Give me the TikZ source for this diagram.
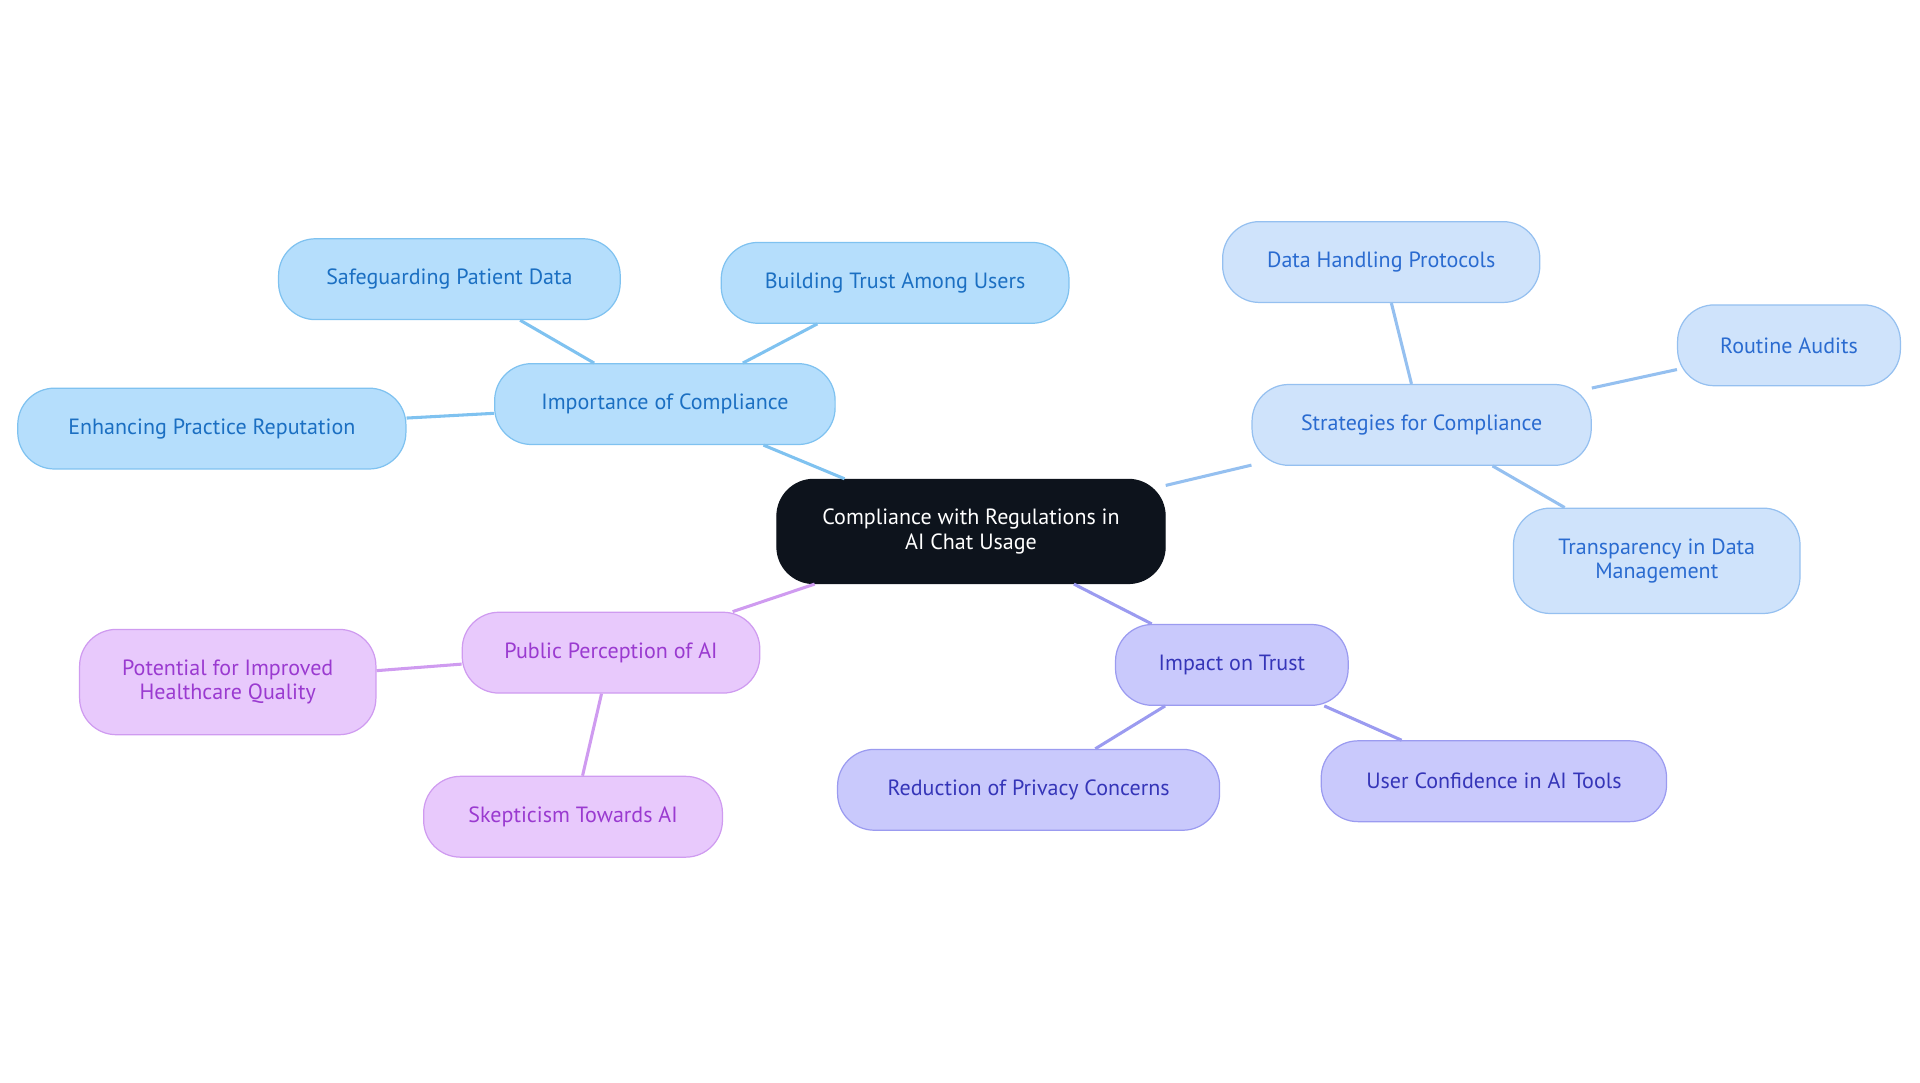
\documentclass[tikz,border=0pt]{standalone}
\usepackage{fontspec}
\setmainfont{PT Sans}
\definecolor{bf}{HTML}{B5DEFC}\definecolor{bd}{HTML}{7FC2F0}\definecolor{bt}{HTML}{1B6FC2}
\definecolor{sf}{HTML}{CFE3FB}\definecolor{sd}{HTML}{95C0F0}\definecolor{st}{HTML}{2A6BD0}
\definecolor{tf}{HTML}{C9C9FC}\definecolor{td}{HTML}{9B9BF0}\definecolor{tt}{HTML}{3535B8}
\definecolor{pf}{HTML}{E8C9FC}\definecolor{pd}{HTML}{CF9BF0}\definecolor{pt}{HTML}{9A3AD0}
\definecolor{cf}{HTML}{0D131C}
\begin{document}
\begin{tikzpicture}[x=1pt,y=-1pt,
 base/.style={rounded corners=30pt,line width=1pt,inner sep=0pt,align=center,font=\fontsize{18}{20}\selectfont,minimum height=66pt},
 imp/.style={base,fill=bf,draw=bd,text=bt},
 str/.style={base,fill=sf,draw=sd,text=st},
 tru/.style={base,fill=tf,draw=td,text=tt},
 pub/.style={base,fill=pf,draw=pd,text=pt},
 eb/.style={line width=2.5pt,bd},es/.style={line width=2.5pt,sd},
 et/.style={line width=2.5pt,td},ep/.style={line width=2.5pt,pd}]
\useasboundingbox (0,0) rectangle (1568,884);
\node[base,fill=cf,draw=cf,text=white,minimum width=317pt,minimum height=85pt] (c) at (793,434) {Compliance with Regulations in\\AI Chat Usage};
\node[imp,minimum width=278pt] (i) at (543,330) {Importance of Compliance};
\node[imp,minimum width=279pt] (i1) at (367,228) {Safeguarding Patient Data};
\node[imp,minimum width=284pt] (i2) at (731,231) {Building Trust Among Users};
\node[imp,minimum width=317pt] (i3) at (173,350) {Enhancing Practice Reputation};
\node[str,minimum width=277pt] (s) at (1161,347) {Strategies for Compliance};
\node[str,minimum width=259pt] (s1) at (1128,214) {Data Handling Protocols};
\node[str,minimum width=182pt] (s2) at (1461,282) {Routine Audits};
\node[str,minimum width=234pt,minimum height=86pt] (s3) at (1353,458) {Transparency in Data\\Management};
\node[tru,minimum width=190pt] (t) at (1006,543) {Impact on Trust};
\node[tru,minimum width=312pt] (t1) at (840,645) {Reduction of Privacy Concerns};
\node[tru,minimum width=282pt] (t2) at (1220,638) {User Confidence in AI Tools};
\node[pub,minimum width=243pt] (p) at (499,533) {Public Perception of AI};
\node[pub,minimum width=242pt,minimum height=86pt] (p1) at (186,557) {Potential for Improved\\Healthcare Quality};
\node[pub,minimum width=244pt] (p2) at (468,667) {Skepticism Towards AI};
\begin{scope}[on background layer/.style={}]
\end{scope}
\draw[eb] (c) -- (i); \draw[eb] (i) -- (i1); \draw[eb] (i) -- (i2); \draw[eb] (i) -- (i3);
\draw[es] (c) -- (s); \draw[es] (s) -- (s1); \draw[es] (s) -- (s2); \draw[es] (s) -- (s3);
\draw[et] (c) -- (t); \draw[et] (t) -- (t1); \draw[et] (t) -- (t2);
\draw[ep] (c) -- (p); \draw[ep] (p) -- (p1); \draw[ep] (p) -- (p2);
\end{tikzpicture}
\end{document}
